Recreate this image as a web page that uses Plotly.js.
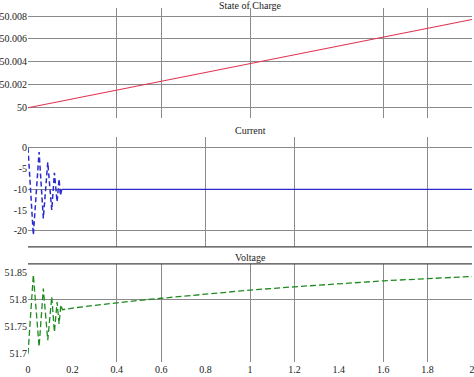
<!DOCTYPE html>
<html><head><meta charset="utf-8">
<script src="https://cdn.plot.ly/plotly-3.0.1.min.js"></script>
<style>html,body{margin:0;padding:0;background:#fff}</style>
</head><body><div id="plot" style="width:474px;height:377px"></div>
<script>
// State of charge
const socTime = [0, 2];
const socValue = [50, 50.0077];
// Current (oscillation, then settled)
const curOscTime = [0, 0.024, 0.05, 0.069, 0.089, 0.107, 0.119, 0.131, 0.14, 0.146, 0.152];
const curOscValue = [0, -21, -1, -17, -3.5, -15, -6, -13, -7.5, -11.5, -10];
const curFlatTime = [0.152, 2];
const curFlatValue = [-10, -10];
// Voltage
const voltTime = [0, 0.024, 0.05, 0.069, 0.089, 0.107, 0.119, 0.131, 0.14, 0.148, 0.155, 0.2, 0.3, 0.4, 0.5, 0.6, 0.8, 1.0, 1.2, 1.4, 1.6, 1.8, 2.0];
const voltValue = [51.70, 51.845, 51.713, 51.82, 51.725, 51.805, 51.74, 51.795, 51.755, 51.79, 51.781, 51.784, 51.789, 51.794, 51.798, 51.802, 51.81, 51.817, 51.823, 51.829, 51.834, 51.838, 51.842];

// Tick labels
const xTickVals = [0, 0.2, 0.4, 0.6, 0.8, 1, 1.2, 1.4, 1.6, 1.8, 2];
const xTickText = ['0', '0.2', '0.4', '0.6', '0.8', '1', '1.2', '1.4', '1.6', '1.8', '2'];
const socTickVals = [50, 50.002, 50.004, 50.006, 50.008];
const socTickText = ['50', '50.002', '50.004', '50.006', '50.008'];
const curTickVals = [0, -5, -10, -15, -20];
const curTickText = ['0', '-5', '-10', '-15', '-20'];
const voltTickVals = [51.7, 51.75, 51.8, 51.85];
const voltTickText = ['51.7', '51.75', '51.8', '51.85'];
// Visible grid lines per panel
const socVGrid = [0.4, 0.6, 1.0, 1.6, 1.8];
const curVGrid = [0.4, 0.8, 1.2, 1.8];
const voltVGrid = [0.4, 0.6, 1.0, 1.2, 1.6, 1.8];
const socHGrid = [50, 50.002, 50.004, 50.006, 50.008];
const curHGrid = [0, -10, -20];
const voltHGrid = [51.8];
const panelTitles = ['State of Charge', 'Current', 'Voltage'];

const serif = 'Liberation Serif, serif';
const tickFont = {family: serif, size: 10, color: '#222'};
const gridCol = '#8a8a8a';

function xAx(grid, labels) {
  return {
    range: [0, 2], zeroline: false, showgrid: false, showline: false,
    tickmode: 'array', tickvals: xTickVals, ticktext: xTickText,
    showticklabels: labels, ticks: '', tickfont: tickFont, ticklabeloverflow: 'allow',
    minor: {tickmode: 'array', tickvals: grid, showgrid: true, gridcolor: gridCol, gridwidth: 1, ticks: ''}
  };
}
function yAx(range, tv, tt, grid, domain) {
  return {
    range: range, domain: domain, zeroline: false, showgrid: false, showline: false,
    tickmode: 'array', tickvals: tv, ticktext: tt, ticks: '', tickfont: tickFont, ticklabeloverflow: 'allow',
    minor: {tickmode: 'array', tickvals: grid, showgrid: true, gridcolor: gridCol, gridwidth: 1, ticks: ''}
  };
}

const traces = [
  {x: socTime, y: socValue, xaxis: 'x', yaxis: 'y', mode: 'lines', line: {color: '#e0304f', width: 1.2}},
  {x: curOscTime, y: curOscValue, xaxis: 'x2', yaxis: 'y2', mode: 'lines', line: {color: '#2a2ad0', width: 1.5, dash: '5px,3px'}},
  {x: curFlatTime, y: curFlatValue, xaxis: 'x2', yaxis: 'y2', mode: 'lines', line: {color: '#2a2ad0', width: 1.2}},
  {x: voltTime, y: voltValue, xaxis: 'x3', yaxis: 'y3', mode: 'lines', line: {color: '#1e8a1e', width: 1.3, dash: '6px,3px'}}
];

const titleFont = {family: serif, size: 10, color: '#222'};
const layout = {
  width: 474, height: 377,
  margin: {l: 28, r: 2, t: 8, b: 15},
  font: {family: serif, size: 10, color: '#222'},
  paper_bgcolor: '#fff', plot_bgcolor: '#fff',
  showlegend: false,
  xaxis: Object.assign(xAx(socVGrid, false), {anchor: 'y'}),
  xaxis2: Object.assign(xAx(curVGrid, false), {anchor: 'y2'}),
  xaxis3: Object.assign(xAx(voltVGrid, true), {anchor: 'y3'}),
  yaxis: yAx([49.9991, 50.0087], socTickVals, socTickText, socHGrid, [0.689, 1]),
  yaxis2: yAx([-23.9, 2.65], curTickVals, curTickText, curHGrid, [0.325, 0.636]),
  yaxis3: yAx([51.685, 51.865], voltTickVals, voltTickText, voltHGrid, [0, 0.277]),
  shapes: [
    {type: 'line', xref: 'paper', yref: 'y2 domain', x0: 0, x1: 1, y0: 0, y1: 0, line: {color: '#444', width: 1.2}},
    {type: 'line', xref: 'paper', yref: 'y3 domain', x0: 0, x1: 1, y0: 1, y1: 1, line: {color: '#444', width: 1.2}}
  ],
  annotations: [
    {text: panelTitles[0], xref: 'x', yref: 'paper', x: 1.0, y: 1.007, yanchor: 'middle', showarrow: false, font: titleFont},
    {text: panelTitles[1], xref: 'x2', yref: 'paper', x: 1.0, y: 0.655, yanchor: 'middle', showarrow: false, font: titleFont},
    {text: panelTitles[2], xref: 'x3', yref: 'paper', x: 1.0, y: 0.294, yanchor: 'middle', showarrow: false, font: titleFont}
  ]
};

Plotly.newPlot('plot', traces, layout, {displayModeBar: false, staticPlot: true});
</script></body></html>
